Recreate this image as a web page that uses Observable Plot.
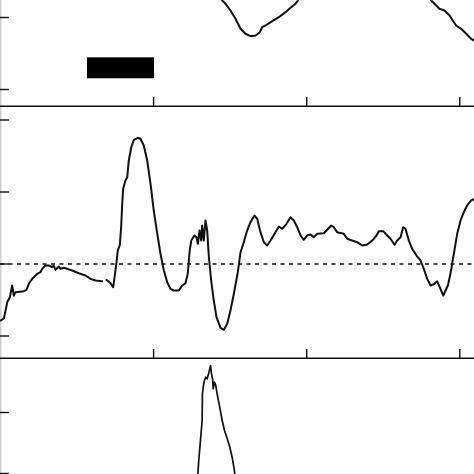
<!DOCTYPE html>
<html><head><meta charset="utf-8">
<script src="https://cdn.jsdelivr.net/npm/d3@7"></script>
<script src="https://cdn.jsdelivr.net/npm/@observablehq/plot@0.6"></script>
<style>
html,body{margin:0;padding:0;background:#fff;}
#chart{width:474px;}
#chart svg{display:block;}
</style>
</head><body><div id="chart"></div>
<script>
// ---- data ----
const xDomain = [0, 3.096];
const xTicks = [1, 2, 3];

const topYTicks = [0, 1];
const midYTicks = [-1, 0, 1, 2];
const botYTicks = [0, 1];

// top panel curve (leaves the panel above the top edge)
const topX = [1.424,1.448,1.470,1.502,1.535,1.568,1.600,1.633,1.666,1.694,1.709,1.731,1.775,1.818,1.862,1.894,1.927,1.942,1.960,
              2.796,2.813,2.835,2.867,2.900,2.933,2.954,2.976,3.009,3.042,3.074,3.103];
const topY = [1.347,1.236,1.190,1.097,0.982,0.843,0.774,0.740,0.750,0.796,0.865,0.889,0.949,1.004,1.074,1.135,1.190,1.236,1.319,
              1.306,1.236,1.190,1.121,1.097,1.028,0.958,0.889,0.843,0.774,0.704,0.667];

// black bar in the top panel
const barStart = [0.568];
const barEnd = [1.006];
const barLow = [0.149];
const barHigh = [0.440];

// middle panel curve (null marks the break)
const midX = [0,0.022,0.033,0.044,0.061,0.076,0.087,0.098,0.152,0.170,0.185,0.207,0.218,0.240,0.261,0.272,0.294,0.315,0.338,0.348,0.359,0.381,0.392,0.413,0.436,0.468,0.511,0.555,0.588,0.621,0.664,
  0.678,
  0.692,0.718,0.736,0.745,0.758,0.766,0.779,0.788,0.795,0.801,0.816,0.828,0.838,0.854,0.871,0.897,0.914,0.936,0.958,0.980,1.001,1.024,1.045,1.067,1.089,1.110,1.132,1.165,1.187,1.208,1.223,1.236,1.246,1.267,1.280,1.289,1.300,1.311,1.317,1.328,1.339,1.350,1.361,1.376,1.393,1.411,1.437,1.459,1.481,1.502,1.524,1.550,1.568,1.589,1.611,1.633,1.659,1.677,1.698,1.720,1.742,1.764,1.796,1.818,1.840,1.868,1.894,1.916,1.938,1.960,1.981,2.003,2.025,2.046,2.069,2.112,2.134,2.160,2.177,2.199,2.242,2.265,2.297,2.330,2.362,2.395,2.428,2.456,2.471,2.500,2.526,2.547,2.574,2.591,2.613,2.630,2.645,2.667,2.689,2.717,2.743,2.765,2.787,2.809,2.835,2.852,2.869,2.892,2.907,2.922,2.939,2.961,2.983,3.005,3.026,3.048,3.074,3.096];
const midY = [-0.785,-0.757,-0.646,-0.531,-0.461,-0.299,-0.438,-0.392,-0.378,-0.358,-0.275,-0.206,-0.183,-0.136,-0.114,-0.067,-0.021,-0.021,-0.044,-0.021,-0.081,-0.035,-0.067,-0.053,-0.067,-0.090,-0.128,-0.160,-0.206,-0.229,-0.239,
  null,
  -0.219,-0.264,-0.322,-0.183,0.025,0.188,0.257,0.511,0.836,1.044,1.160,1.206,1.438,1.622,1.725,1.753,1.739,1.646,1.438,1.114,0.743,0.419,0.142,-0.090,-0.253,-0.344,-0.368,-0.368,-0.299,-0.267,-0.136,0.188,0.326,0.396,0.372,0.281,0.465,0.326,0.535,0.326,0.604,0.465,0.094,-0.229,-0.507,-0.739,-0.886,-0.914,-0.831,-0.646,-0.414,-0.114,0.164,0.303,0.465,0.581,0.674,0.628,0.442,0.303,0.257,0.326,0.442,0.521,0.489,0.558,0.650,0.604,0.511,0.396,0.336,0.396,0.410,0.372,0.419,0.428,0.475,0.535,0.511,0.442,0.419,0.350,0.326,0.303,0.257,0.271,0.326,0.396,0.456,0.456,0.396,0.350,0.267,0.326,0.372,0.511,0.489,0.326,0.211,0.118,0.049,-0.067,-0.206,-0.299,-0.275,-0.239,-0.322,-0.438,-0.368,-0.299,-0.136,0.142,0.419,0.604,0.719,0.813,0.882,0.906];

// bottom panel peak
const botX = [1.285,1.289,1.295,1.306,1.317,1.319,1.324,1.332,1.341,1.350,1.359,1.367,1.372,1.378,1.385,1.389,1.398,1.406,1.415,1.432,1.448,1.463,1.481,1.498,1.513,1.528,1.530,1.535];
const botY = [-0.115,-0.016,0.213,0.541,0.869,1.307,1.415,1.525,1.579,1.552,1.634,1.716,1.770,1.634,1.552,1.389,1.497,1.443,1.307,1.087,0.869,0.705,0.569,0.431,0.267,0.049,-0.016,-0.115];

// ---- drawing ----
const ink = "#111";
const toRows = (xs, ys) => xs.map((x, i) => ({x, y: ys[i]}));

function panel({height, marginBottom, yDomain, yTicks, marks}) {
  return Plot.plot({
    width: 474, height,
    marginLeft: 0, marginRight: 0, marginTop: 0, marginBottom,
    x: {domain: xDomain, axis: null},
    y: {domain: yDomain, axis: null},
    marks: [
      Plot.ruleX([xDomain[0]], {stroke: "#d0d0d0", strokeWidth: 2}),
      Plot.ruleY(yTicks, {insetRight: 474 - 9, stroke: ink, strokeWidth: 1.4}),
      ...marks
    ]
  });
}

const topPanel = panel({
  height: 107, marginBottom: 1, yDomain: [-0.2361, 1.2361], yTicks: topYTicks,
  marks: [
    Plot.rect(barStart.map((s, i) => ({x1: s, x2: barEnd[i], y1: barLow[i], y2: barHigh[i]})),
      {x1: "x1", x2: "x2", y1: "y1", y2: "y2", fill: "#000"}),
    Plot.line(toRows(topX, topY), {x: "x", y: "y", stroke: ink, strokeWidth: 2, clip: true}),
    Plot.ruleX(xTicks, {insetTop: 97, stroke: ink, strokeWidth: 1.4}),
    Plot.ruleY([-0.2361], {stroke: ink, strokeWidth: 2})
  ]
});

const midPanel = panel({
  height: 252, marginBottom: 1, yDomain: [-1.3125, 2.1736], yTicks: midYTicks,
  marks: [
    Plot.ruleY([0], {stroke: ink, strokeWidth: 1.5, strokeDasharray: "4,4.5"}),
    Plot.line(toRows(midX, midY), {x: "x", y: "y", stroke: ink, strokeWidth: 2, clip: true}),
    Plot.ruleX(xTicks, {insetTop: 251 - 9, stroke: ink, strokeWidth: 1.4}),
    Plot.ruleY([-1.3125], {stroke: ink, strokeWidth: 2})
  ]
});

const botPanel = panel({
  height: 115, marginBottom: 0, yDomain: [-0.0164, 1.8689], yTicks: botYTicks,
  marks: [
    Plot.line(toRows(botX, botY), {x: "x", y: "y", stroke: ink, strokeWidth: 1.7, clip: true})
  ]
});

const chart = document.getElementById("chart");
chart.append(topPanel, midPanel, botPanel);
</script>
</body></html>
